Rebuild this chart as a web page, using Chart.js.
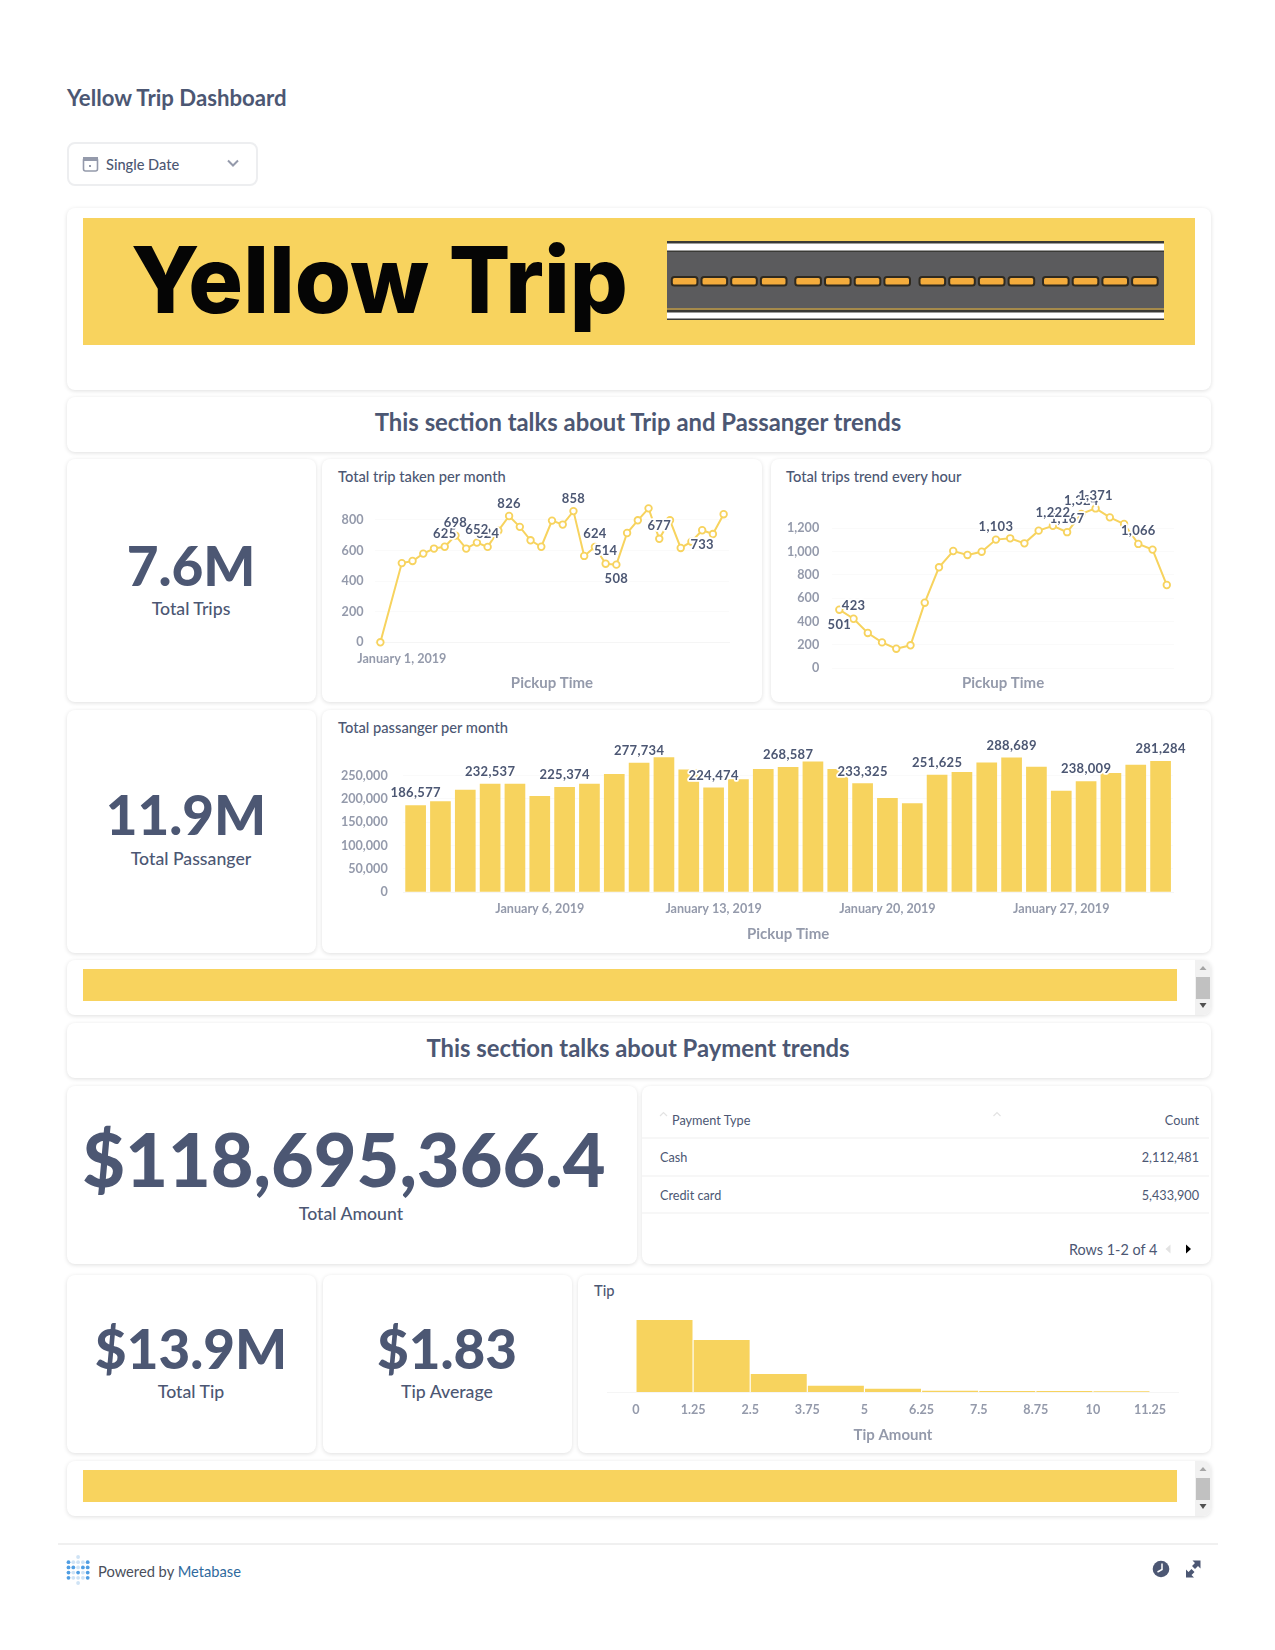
<!DOCTYPE html>
<html>
<head>
<meta charset="utf-8">
<title>Yellow Trip Dashboard</title>
<script src="https://cdn.jsdelivr.net/npm/chart.js@4/dist/chart.umd.min.js"></script>
<style>
    html, body { margin: 0; padding: 0; background: #fff; }
    body { position: relative; width: 1275px; height: 1650px; overflow: hidden; font-family: Lato, sans-serif; color: #4C5773; }
    .card { position: absolute; background: #fff; border-radius: 8px; box-shadow: 0 1px 4px rgba(0, 0, 0, .13); }
    .fill { position: absolute; background: #F8D35E; }
    canvas { position: absolute; }
    .c { position: absolute; transform: translate(-50%, -50%); white-space: nowrap; }
    .l { position: absolute; transform: translateY(-50%); white-space: nowrap; }
    .r { position: absolute; transform: translate(-100%, -50%); white-space: nowrap; }
    .section { font-size: 23.85px; font-weight: 700; }
    .big { font-size: 54.8px; font-weight: 900; }
    .sub { font-size: 17.7px; font-weight: 500; }
    .title { font-size: 14.7px; font-weight: 500; }
    .cell { font-size: 12.7px; }
    .rule { position: absolute; left: 642px; width: 567px; height: 2px; background: #F7F7F7; }
    #overlay { position: absolute; left: 0; top: 0; pointer-events: none; }
</style>
</head>
<body>
    <div class="l" style="left:67px;top:97px;font-size:22.2px;font-weight:700">Yellow Trip Dashboard</div>

    <div class="card" style="left:67px;top:142px;width:187px;height:40px;box-shadow:none;border:2px solid #EDEEF0"></div>
    <div class="l" style="left:106px;top:164px;font-size:14.6px;font-weight:500">Single Date</div>

    <div class="card" style="left:67px;top:208px;width:1144px;height:182px"></div>
    <div class="fill" style="left:83px;top:218px;width:1112px;height:127px"></div>

    <div class="card" style="left:67px;top:397px;width:1144px;height:55px"></div>
    <div class="c section" style="left:638px;top:421px">This section talks about Trip and Passanger trends</div>

    <div class="card" style="left:67px;top:459px;width:249px;height:243px"></div>
    <div class="c big" style="left:191px;top:564.5px">7.6M</div>
    <div class="c sub" style="left:191px;top:608px">Total Trips</div>

    <div class="card" style="left:322px;top:459px;width:440px;height:243px"></div>
    <div class="l title" style="left:338px;top:476px">Total trip taken per month</div>
    <canvas id="tripChart"></canvas>

    <div class="card" style="left:771px;top:459px;width:440px;height:243px"></div>
    <div class="l title" style="left:786px;top:476px">Total trips trend every hour</div>
    <canvas id="hourChart"></canvas>

    <div class="card" style="left:67px;top:710px;width:249px;height:243px"></div>
    <div class="c big" style="left:186px;top:814px">11.9M</div>
    <div class="c sub" style="left:191px;top:858px">Total Passanger</div>

    <div class="card" style="left:322px;top:710px;width:889px;height:243px"></div>
    <div class="l title" style="left:338px;top:727px">Total passanger per month</div>
    <canvas id="passengerChart"></canvas>

    <div class="card" style="left:67px;top:960px;width:1144px;height:55px"></div>
    <div class="fill" style="left:83px;top:969px;width:1094px;height:32px"></div>
    <div class="fill" style="left:1195px;top:960px;width:16px;height:55px;background:#F1F1F1;border-radius:0 8px 8px 0"></div>
    <div class="fill" style="left:1196px;top:977px;width:14px;height:22px;background:#C1C1C1"></div>

    <div class="card" style="left:67px;top:1023px;width:1144px;height:55px"></div>
    <div class="c section" style="left:638px;top:1047px">This section talks about Payment trends</div>

    <div class="card" style="left:67px;top:1086px;width:570px;height:178px"></div>
    <div class="c" style="left:344px;top:1158px;font-size:73.8px;font-weight:900">$118,695,366.4</div>
    <div class="c sub" style="left:351px;top:1213px">Total Amount</div>

    <div class="card" style="left:642px;top:1086px;width:569px;height:178px"></div>
    <div class="l cell" style="left:672px;top:1120px">Payment Type</div>
    <div class="r cell" style="left:1199px;top:1120px">Count</div>
    <div class="rule" style="top:1137px"></div>
    <div class="l cell" style="left:660px;top:1157px">Cash</div>
    <div class="r cell" style="left:1199px;top:1157px">2,112,481</div>
    <div class="rule" style="top:1175px"></div>
    <div class="l cell" style="left:660px;top:1195px">Credit card</div>
    <div class="r cell" style="left:1199px;top:1195px">5,433,900</div>
    <div class="rule" style="top:1212px"></div>
    <div class="l" style="left:1069px;top:1249px;font-size:14.4px">Rows 1-2 of 4</div>

    <div class="card" style="left:67px;top:1275px;width:249px;height:178px"></div>
    <div class="c big" style="left:191px;top:1348px">$13.9M</div>
    <div class="c sub" style="left:191px;top:1391px">Total Tip</div>

    <div class="card" style="left:323px;top:1275px;width:249px;height:178px"></div>
    <div class="c big" style="left:447px;top:1348px">$1.83</div>
    <div class="c sub" style="left:447px;top:1391px">Tip Average</div>

    <div class="card" style="left:578px;top:1275px;width:633px;height:178px"></div>
    <div class="l title" style="left:594px;top:1290px">Tip</div>
    <canvas id="tipChart"></canvas>

    <div class="card" style="left:67px;top:1461px;width:1144px;height:55px"></div>
    <div class="fill" style="left:83px;top:1470px;width:1094px;height:32px"></div>
    <div class="fill" style="left:1195px;top:1461px;width:16px;height:55px;background:#F1F1F1;border-radius:0 8px 8px 0"></div>
    <div class="fill" style="left:1196px;top:1478px;width:14px;height:22px;background:#C1C1C1"></div>

    <div class="fill" style="left:58px;top:1543px;width:1160px;height:2px;background:#F0F0F0"></div>
    <div class="l" style="left:98px;top:1570.5px;font-size:14.7px;font-weight:400"><span style="color:#4A4F5C">Powered by</span> <span style="color:#2F6A9E">Metabase</span></div>

    <svg id="overlay" width="1275" height="1650" xmlns="http://www.w3.org/2000/svg"></svg>

<script>
// ----- values -----
const tripDays = [
    'December 30, 2018', 'December 31, 2018', 'January 1, 2019', 'January 2, 2019', 'January 3, 2019',
    'January 4, 2019', 'January 5, 2019', 'January 6, 2019', 'January 7, 2019', 'January 8, 2019',
    'January 9, 2019', 'January 10, 2019', 'January 11, 2019', 'January 12, 2019', 'January 13, 2019',
    'January 14, 2019', 'January 15, 2019', 'January 16, 2019', 'January 17, 2019', 'January 18, 2019',
    'January 19, 2019', 'January 20, 2019', 'January 21, 2019', 'January 22, 2019', 'January 23, 2019',
    'January 24, 2019', 'January 25, 2019', 'January 26, 2019', 'January 27, 2019', 'January 28, 2019',
    'January 29, 2019', 'January 30, 2019', 'January 31, 2019'
];
const tripValues = [
    0, null, 518, 532, 580, 613, 625, 698, 613, 652, 624, 730, 826, 755, 667, 625, 796,
    770, 858, 565, 624, 514, 508, 715, 798, 876, 677, 798, 617, 658, 733, 708, 838
];
const tripTicks = ['January 1, 2019'];
const tripYTicks = [0, 200, 400, 600, 800];
// index of the labelled point and whether the label sits below it; drawn in this order
const tripLabels = [[6, 0], [7, 0], [10, 0], [9, 0], [12, 0], [18, 0], [20, 0], [21, 0], [22, 1], [26, 0], [30, 1]];

const hourNames = [
    '12 AM', '1 AM', '2 AM', '3 AM', '4 AM', '5 AM', '6 AM', '7 AM', '8 AM', '9 AM', '10 AM', '11 AM',
    '12 PM', '1 PM', '2 PM', '3 PM', '4 PM', '5 PM', '6 PM', '7 PM', '8 PM', '9 PM', '10 PM', '11 PM'
];
const hourValues = [
    501, 423, 301, 220, 166, 195, 561, 865, 1005, 971, 999, 1103,
    1114, 1071, 1180, 1222, 1167, 1324, 1371, 1294, 1237, 1066, 1017, 713
];
const hourYTicks = [0, 200, 400, 600, 800, 1000, 1200];
const hourLabels = [[0, 1], [1, 0], [11, 0], [16, 0], [15, 0], [17, 0], [18, 0], [21, 0]];

const passengerDays = tripDays.slice(2);
const passengerValues = [
    186577, 194800, 219800, 232537, 232700, 206200, 225374, 232700, 253500, 277734, 289300,
    262800, 224474, 242000, 264200, 268587, 280000, 264200, 233325, 201900, 190500, 251625,
    257800, 277800, 288689, 269200, 217700, 238009, 255600, 273500, 281284
];
const passengerTicks = ['January 6, 2019', 'January 13, 2019', 'January 20, 2019', 'January 27, 2019'];
const passengerYTicks = [0, 50000, 100000, 150000, 200000, 250000];
const passengerLabels = [[0, 0], [3, 0], [6, 0], [9, 0], [12, 0], [15, 0], [18, 0], [21, 0], [24, 0], [27, 0], [30, 0]];

const tipEdges = [0, 1.25, 2.5, 3.75, 5, 6.25, 7.5, 8.75, 10, 11.25];
const tipCounts = [3515000, 2539000, 879000, 309000, 163000, 65000, 49000, 49000, 33000];

// ----- look -----
const YELLOW = '#F7D35E';
const DARK = '#4C5773';
const MUTED = '#949AAB';
const FAINT = '#FAFAFA';

Chart.defaults.font.family = 'Lato, sans-serif';
Chart.defaults.animation = false;

const valueLabels = {
    id: 'valueLabels',
    afterDatasetsDraw(chart, args, opts) {
        const ctx = chart.ctx;
        const points = chart.getDatasetMeta(0).data;
        const values = chart.data.datasets[0].data;
        ctx.save();
        ctx.font = 'bold 13px Lato, sans-serif';
        ctx.letterSpacing = '0.3px';
        ctx.textAlign = 'center';
        ctx.textBaseline = 'middle';
        ctx.lineJoin = 'round';
        opts.items.forEach(([index, below]) => {
            const text = values[index].toLocaleString('en-US');
            const x = points[index].x;
            const y = points[index].y + (below ? opts.below : -opts.above);
            ctx.lineWidth = 3.5;
            ctx.strokeStyle = '#fff';
            ctx.strokeText(text, x, y);
            ctx.fillStyle = DARK;
            ctx.fillText(text, x, y);
        });
        ctx.restore();
    }
};

// card and plot are page rectangles, the canvas covers the card and the plot is pinned inside it
function placeCanvas(id, card) {
    const canvas = document.getElementById(id);
    canvas.width = card.right - card.left;
    canvas.height = card.bottom - card.top;
    canvas.style.left = card.left + 'px';
    canvas.style.top = card.top + 'px';
    canvas.style.width = canvas.width + 'px';
    canvas.style.height = canvas.height + 'px';
    return canvas;
}

function baseOptions(card, plot, titleText, titleY, xTicks, yScale) {
    return {
        responsive: false,
        layout: { padding: { top: plot.top - card.top, right: card.right - plot.right, left: 0, bottom: 0 } },
        plugins: { legend: { display: false }, tooltip: { enabled: false } },
        scales: {
            x: Object.assign({
                grid: { display: false, drawTicks: false },
                border: { color: '#F5F5F5' },
                afterFit(scale) { scale.height = card.bottom - plot.bottom; },
                title: {
                    display: true,
                    text: titleText,
                    color: MUTED,
                    font: { size: 15, weight: 'bold' },
                    padding: { top: 0, bottom: card.bottom - titleY - 9 }
                }
            }, xTicks),
            y: Object.assign({
                min: 0,
                grid: { color: FAINT, drawTicks: false },
                border: { display: false },
                afterFit(scale) { scale.width = plot.left - card.left; }
            }, yScale)
        }
    };
}

function tickFont() {
    return { size: 12.6, weight: 'bold' };
}

function lineDataset(values) {
    return {
        data: values,
        borderColor: YELLOW,
        borderWidth: 2,
        pointRadius: 3.3,
        pointBorderWidth: 1.8,
        pointBackgroundColor: '#fff',
        pointBorderColor: YELLOW,
        spanGaps: true,
        tension: 0,
        clip: false
    };
}

function numberScale(max, tickValues, padding) {
    return {
        max: max,
        afterBuildTicks(scale) { scale.ticks = tickValues.map(value => ({ value })); },
        ticks: {
            autoSkip: false,
            color: MUTED,
            font: tickFont(),
            padding: padding,
            callback: value => value.toLocaleString('en-US')
        }
    };
}

function createTripChart() {
    const card = { left: 322, top: 459, right: 762, bottom: 702 };
    const plot = { left: 375, top: 504.7, right: 729, bottom: 642.3 };
    const options = baseOptions(card, plot, 'Pickup Time', 683, {
        offset: true,
        ticks: {
            autoSkip: false, maxRotation: 0, minRotation: 0, color: MUTED, font: tickFont(), padding: 9,
            callback(value) {
                const label = this.getLabelForValue(value);
                return tripTicks.includes(label) ? label : '';
            }
        }
    }, numberScale(900, tripYTicks, 11.5));
    options.plugins.valueLabels = { items: tripLabels, above: 12.7, below: 14.3 };
    new Chart(placeCanvas('tripChart', card), {
        type: 'line',
        data: { labels: tripDays, datasets: [lineDataset(tripValues)] },
        options,
        plugins: [valueLabels]
    });
}

function createHourChart() {
    const card = { left: 771, top: 459, right: 1211, bottom: 702 };
    const plot = { left: 832.2, top: 506.2, right: 1173.9, bottom: 668 };
    const options = baseOptions(card, plot, 'Pickup Time', 683, {
        offset: true,
        border: { display: false },
        ticks: { display: false }
    }, numberScale(1390, hourYTicks, 13));
    options.plugins.valueLabels = { items: hourLabels, above: 13, below: 14.7 };
    new Chart(placeCanvas('hourChart', card), {
        type: 'line',
        data: { labels: hourNames, datasets: [lineDataset(hourValues)] },
        options,
        plugins: [valueLabels]
    });
}

function createPassengerChart() {
    const card = { left: 322, top: 710, right: 1211, bottom: 953 };
    const plot = { left: 403.2, top: 754.6, right: 1173, bottom: 892.2 };
    const options = baseOptions(card, plot, 'Pickup Time', 934, {
        offset: true,
        ticks: {
            autoSkip: false, maxRotation: 0, minRotation: 0, color: MUTED, font: tickFont(), padding: 9,
            callback(value) {
                const label = this.getLabelForValue(value);
                return passengerTicks.includes(label) ? label : '';
            }
        }
    }, numberScale(295000, passengerYTicks, 15.5));
    options.plugins.valueLabels = { items: passengerLabels, above: 12, below: 12 };
    new Chart(placeCanvas('passengerChart', card), {
        type: 'bar',
        data: {
            labels: passengerDays,
            datasets: [{ data: passengerValues, backgroundColor: YELLOW, barPercentage: 0.833, categoryPercentage: 1 }]
        },
        options,
        plugins: [valueLabels]
    });
}

function createTipChart() {
    const card = { left: 578, top: 1275, right: 1211, bottom: 1453 };
    const plot = { left: 607.4, top: 1320, right: 1178.6, bottom: 1392 };
    const options = baseOptions(card, plot, 'Tip Amount', 1435.5, {
        type: 'linear',
        offset: false,
        min: -0.625,
        max: 11.875,
        afterBuildTicks(scale) { scale.ticks = tipEdges.map(value => ({ value })); },
        ticks: {
            autoSkip: false, maxRotation: 0, minRotation: 0, color: MUTED, font: tickFont(), padding: 10,
            callback: value => String(value)
        }
    }, { max: tipCounts[0], grid: { display: false }, ticks: { display: false } });
    const bins = tipCounts.map((count, i) => ({ x: (tipEdges[i] + tipEdges[i + 1]) / 2, y: count }));
    new Chart(placeCanvas('tipChart', card), {
        type: 'bar',
        data: { datasets: [{ data: bins, backgroundColor: YELLOW, barPercentage: 0.98, categoryPercentage: 1 }] },
        options
    });
}

// ----- banner road, icons and logo -----
function drawDecorations() {
    let svg = '';
    svg += `<text x="131" y="313.3" font-family="Inter" font-weight="800" font-size="92" fill="#050505" textLength="497" lengthAdjust="spacingAndGlyphs">Yellow Trip</text>`;

    svg += `<rect x="667" y="241" width="497" height="79" fill="#3A3A36"/>`;
    svg += `<rect x="667" y="243.5" width="497" height="7" fill="#fff"/>`;
    svg += `<rect x="667" y="252" width="497" height="56" fill="#5B5B5D"/>`;
    svg += `<rect x="667" y="308" width="497" height="2" fill="#A58A4A"/>`;
    svg += `<rect x="667" y="312.5" width="497" height="6" fill="#fff"/>`;
    [671.8, 795.3, 919.5, 1043].forEach(groupLeft => {
        for (let i = 0; i < 4; i++) {
            svg += `<rect x="${groupLeft + i * 29.7}" y="277" width="25.6" height="8.4" rx="2.5" fill="#F4AC3C" stroke="#2F2A20" stroke-width="2"/>`;
        }
    });

    // calendar and chevron of the date filter
    svg += `<rect x="83.5" y="158" width="14" height="13" rx="2" fill="none" stroke="#949AAB" stroke-width="1.6"/>`;
    svg += `<rect x="83" y="157" width="15" height="4" fill="#949AAB"/><rect x="89" y="165" width="2" height="2" fill="#949AAB"/>`;
    svg += `<polyline points="228,160.5 233,165.5 238,160.5" fill="none" stroke="#949AAB" stroke-width="2"/>`;

    // table sort carets and pager
    svg += `<polyline points="660,1116 663.5,1112.5 667,1116" fill="none" stroke="#E3E3E3" stroke-width="1.2"/>`;
    svg += `<polyline points="993.5,1116 997,1112.5 1000.5,1116" fill="none" stroke="#E3E3E3" stroke-width="1.2"/>`;
    svg += `<polygon points="1170.5,1244.5 1170.5,1253.5 1165.5,1249" fill="#E3E3E3"/>`;
    svg += `<polygon points="1186,1244.5 1186,1253.5 1191,1249" fill="#000"/>`;

    // scrollbar arrows
    [960, 1461].forEach(top => {
        svg += `<polygon points="1199.5,${top + 10} 1206.5,${top + 10} 1203,${top + 6}" fill="#A5A5A5"/>`;
        svg += `<polygon points="1199.5,${top + 43} 1206.5,${top + 43} 1203,${top + 48}" fill="#505050"/>`;
    });

    // footer logo
    const logoDots = ['..l..', 'dlllD', 'ddlDD', 'dlDlD', 'dlllD', '..l..'];
    logoDots.forEach((row, r) => {
        [...row].forEach((dot, c) => {
            if (dot === '.') return;
            const colour = dot === 'l' ? '#CFE3F5' : '#509EE3';
            svg += `<circle cx="${68.5 + c * 4.8}" cy="${1557 + r * 5.2}" r="1.9" fill="${colour}"/>`;
        });
    });

    // clock and fullscreen icons
    svg += `<circle cx="1161" cy="1569" r="8.3" fill="${DARK}"/>`;
    svg += `<polyline points="1162,1563.5 1162,1569.5 1157.5,1572" fill="none" stroke="#fff" stroke-width="1.5"/>`;
    svg += `<polygon points="1192.5,1560.5 1200.5,1560.5 1200.5,1568.5 1198,1566 1195,1569 1192,1566 1195,1563" fill="${DARK}"/>`;
    svg += `<polygon points="1186,1569.5 1188.5,1572 1191.5,1569 1194.5,1572 1191.5,1575 1194,1577.5 1186,1577.5" fill="${DARK}"/>`;

    document.getElementById('overlay').innerHTML = svg;
}

createTripChart();
createHourChart();
createPassengerChart();
createTipChart();
drawDecorations();
</script>
</body>
</html>
